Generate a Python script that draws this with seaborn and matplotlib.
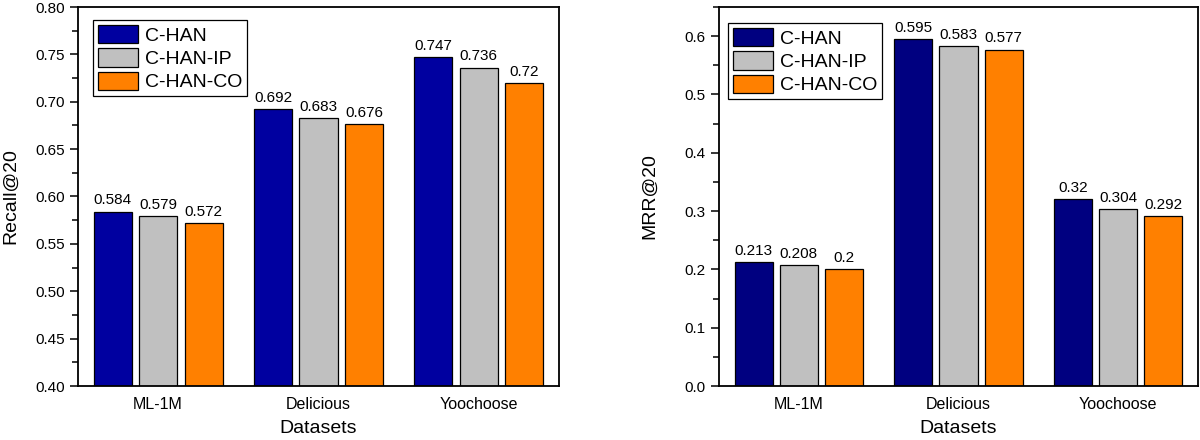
import pandas as pd
import matplotlib
matplotlib.use("Agg")
import matplotlib.pyplot as plt
import seaborn as sns
from matplotlib.ticker import MultipleLocator

# data
datasets = ["ML-1M", "Delicious", "Yoochoose"]
models = ["C-HAN", "C-HAN-IP", "C-HAN-CO"]
recall_han = [0.584, 0.692, 0.747]
recall_ip = [0.579, 0.683, 0.736]
recall_co = [0.572, 0.676, 0.720]
mrr_han = [0.213, 0.595, 0.320]
mrr_ip = [0.208, 0.583, 0.304]
mrr_co = [0.200, 0.577, 0.292]


def make_df(a, b, c):
    rows = []
    for name, vals in zip(models, [a, b, c]):
        for d, v in zip(datasets, vals):
            rows.append({"Datasets": d, "Model": name, "Value": v})
    return pd.DataFrame(rows)


recall_df = make_df(recall_han, recall_ip, recall_co)
mrr_df = make_df(mrr_han, mrr_ip, mrr_co)

sns.set_style("ticks", {"text.color": "black", "axes.labelcolor": "black",
                        "xtick.color": "black", "ytick.color": "black",
                        "axes.edgecolor": "black"})
plt.rcParams['font.family'] = ['Liberation Sans', 'DejaVu Sans']

fig = plt.figure(figsize=(12, 4.4), dpi=100)
ax1 = fig.add_axes([78/1200, 54/440, 481/1200, 379/440])
ax2 = fig.add_axes([719/1200, 54/440, 479/1200, 379/440])


def draw(ax, df, pal, ylim, major, minor, ylabel, leg_anchor):
    sns.barplot(data=df, x="Datasets", y="Value", hue="Model", palette=pal,
                saturation=1, width=0.85, gap=0.16, edgecolor="black", linewidth=0.9,
                ax=ax, errorbar=None)
    for cont in ax.containers:
        ax.bar_label(cont, fmt="%g", padding=3, fontsize=11, color="black")
    ax.set_ylim(*ylim)
    ax.set_xlim(-0.5, 2.5)
    ax.yaxis.set_major_locator(MultipleLocator(major))
    ax.yaxis.set_minor_locator(MultipleLocator(minor))
    ax.tick_params(axis="y", which="major", direction="out", length=6, width=1.1,
                   labelsize=11, colors="black")
    ax.tick_params(axis="y", which="minor", direction="out", length=4, width=1.1, colors="black")
    ax.tick_params(axis="x", direction="in", length=6, width=1.1, labelsize=11.5, pad=8,
                   colors="black")
    for s in ax.spines.values():
        s.set_visible(True)
        s.set_linewidth(1.3)
        s.set_color("black")
    ax.set_xlabel("Datasets", fontsize=14, labelpad=6, color="black")
    ax.set_ylabel(ylabel, fontsize=14, color="black")
    ax.legend(loc="upper left", bbox_to_anchor=leg_anchor, fontsize=14,
              frameon=True, fancybox=False, framealpha=1, edgecolor="black",
              handlelength=2.05, handleheight=1.08, labelspacing=0.18,
              handletextpad=0.36, borderpad=0.25, borderaxespad=0, labelcolor="black")
    ax.get_legend().get_frame().set_linewidth(0.9)


draw(ax1, recall_df, ["#0000A0", "#C0C0C0", "#FF8000"], (0.40, 0.80), 0.05, 0.025,
     "Recall@20", (15/481, 1 - 13/379))
draw(ax2, mrr_df, ["#000080", "#C0C0C0", "#FF8000"], (0.0, 0.65), 0.1, 0.05,
     "MRR@20", (9/479, 1 - 16/379))
ax1.yaxis.set_label_coords(-0.123, 0.5)
ax2.yaxis.set_label_coords(-0.127, 0.5)

fig.savefig("out.png", dpi=100)
